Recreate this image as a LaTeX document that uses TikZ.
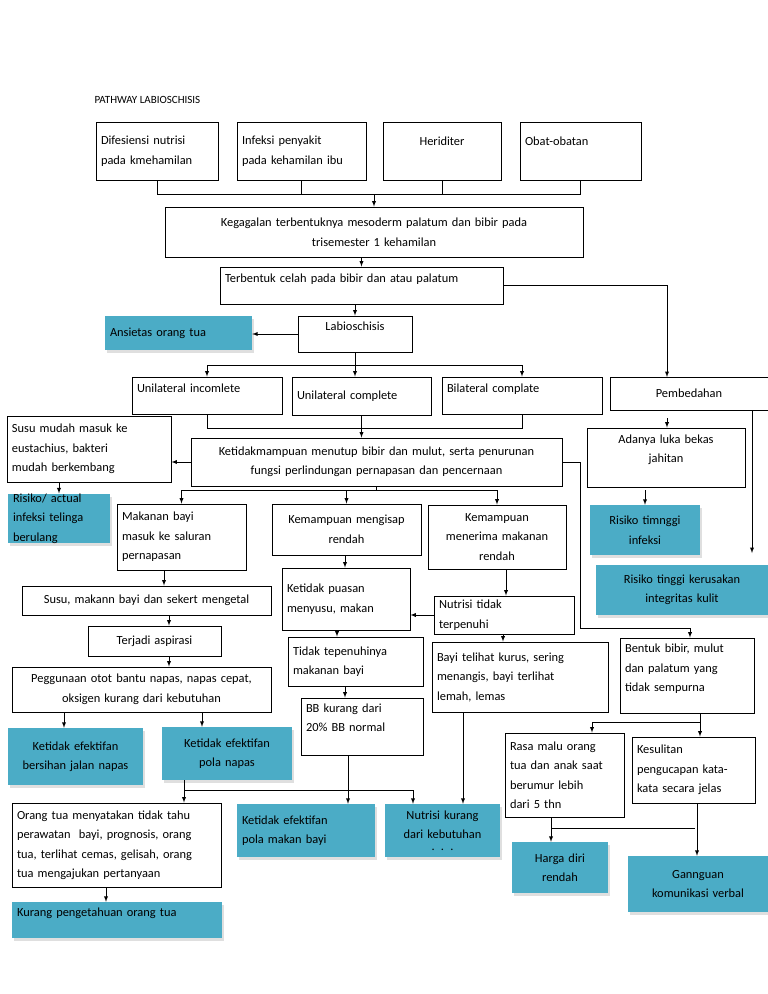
\documentclass[tikz,border=0pt]{standalone}
\usepackage{fontspec}
\setmainfont{Carlito}
\usetikzlibrary{shadows}
\definecolor{bl}{HTML}{4BACC6}
\lefthyphenmin=64
\newcommand\bx[7]{%
\pgfmathsetmacro\bxcx{(#2+#4)/2}\pgfmathsetmacro\bxcy{(#3+#5)/2}%
\pgfmathsetmacro\bxw{#4-#2}\pgfmathsetmacro\bxh{#5-#3}\pgfmathsetmacro\bxtw{#4-#2-10}%
\node[#6,minimum width=\bxw pt,minimum height=\bxh pt,text width=\bxtw pt] (#1) at (\bxcx,\bxcy) {#7};}
\begin{document}
\begin{tikzpicture}[x=1pt,y=-1pt,
 box/.style={draw,line width=0.9pt,fill=white,inner sep=0pt,font=\fontsize{12.4}{19.5}\selectfont},
 L/.style={box,align=left},
 C/.style={box,align=center},
 B/.style={fill=bl,inner sep=0pt,drop shadow={shadow xshift=2pt,shadow yshift=-3pt,fill=gray!25,opacity=1},font=\fontsize{12.4}{19.5}\selectfont},
 BL/.style={B,align=left},
 BC/.style={B,align=center},
 arr/.style={-latex,line width=0.9pt},
 ln/.style={line width=0.9pt}]
\useasboundingbox (0,0) rectangle (768,994);
\node[anchor=west,font=\fontsize{11}{13}\selectfont] (title) at (91,100) {PATHWAY LABIOSCHISIS};
\bx{d1}{96}{122}{218}{180}{L}{Difesiensi nutrisi\\pada kmehamilan}
\bx{d2}{237}{122}{366}{180}{L}{Infeksi penyakit\\pada kehamilan ibu}
\bx{d3}{383}{122}{501}{180}{C}{Heriditer\\\mbox{}}
\bx{d4}{520}{122}{641}{180}{L}{Obat-obatan\\\mbox{}}
\bx{k}{165}{207}{583}{257}{C}{Kegagalan terbentuknya mesoderm palatum dan bibir pada\\trisemester 1 kehamilan}
\bx{t}{220}{267}{503}{304}{L}{Terbentuk celah pada bibir dan atau palatum\\[-4pt]\mbox{}}
\bx{lab}{298}{316}{412}{352}{C}{Labioschisis\\[-4pt]\mbox{}}
\bx{ans}{105}{316}{252}{350}{BL}{Ansietas orang tua}
\bx{ui}{132}{377}{282}{414}{L}{Unilateral incomlete\\[-4pt]\mbox{}}
\bx{uc}{292}{377}{431}{415}{L}{Unilateral complete}
\bx{bc}{442}{377}{602}{414}{L}{Bilateral complate\\[-4pt]\mbox{}}
\bx{pem}{610}{377}{768}{410}{C}{Pembedahan}
\bx{se}{7}{416}{171}{482}{L}{Susu mudah masuk ke\\eustachius, bakteri\\mudah berkembang}
\bx{kt}{191}{438}{562}{486}{C}{Ketidakmampuan menutup bibir dan mulut, serta penurunan\\fungsi perlindungan pernapasan dan pencernaan}
\bx{ri}{8}{497}{110}{540}{BL}{Risiko/ actual\\infeksi telinga\\berulang}
\bx{al}{587}{428}{745}{487}{C}{Adanya luka bekas\\jahitan\\[-2pt]\mbox{}}
\bx{rt}{590}{505}{700}{555}{BC}{Risiko timnggi\\infeksi}
\bx{rk}{596}{565}{768}{615}{BC}{Risiko tinggi kerusakan\\integritas kulit}
\bx{mb}{117}{504}{246}{570}{L}{Makanan bayi\\masuk ke saluran\\pernapasan}
\bx{km}{272}{504}{421}{555}{C}{Kemampuan mengisap\\rendah}
\bx{kr}{428}{505}{566}{569}{C}{Kemampuan\\menerima makanan\\rendah}
\bx{sm}{22}{586}{271}{615}{C}{Susu, makann bayi dan sekert mengetal}
\bx{kp}{282}{568}{410}{630}{L}{Ketidak puasan\\menyusu, makan}
\bx{nt}{434}{596}{574}{634}{L}{Nutrisi tidak\\terpenuhi}
\bx{bt}{620}{638}{754}{713}{L}{Bentuk bibir, mulut\\dan palatum yang\\tidak sempurna\\[-4pt]\mbox{}}
\bx{ta}{88}{626}{221}{656}{C}{Terjadi aspirasi}
\bx{tt}{288}{637}{423}{686}{L}{Tidak tepenuhinya\\makanan bayi}
\bx{bk}{432}{642}{608}{712}{L}{Bayi telihat kurus, sering\\menangis, bayi terlihat\\lemah, lemas}
\bx{pg}{12}{667}{271}{712}{C}{Peggunaan otot bantu napas, napas cepat,\\oksigen kurang dari kebutuhan}
\bx{bb}{301}{698}{423}{755}{L}{BB kurang dari\\20\% BB normal\\[-2pt]\mbox{}}
\bx{bj}{8}{728}{143}{785}{BC}{Ketidak efektifan\\bersihan jalan napas}
\bx{pn}{162}{727}{292}{780}{BC}{Ketidak efektifan\\pola napas}
\bx{rm}{505}{733}{624}{817}{L}{Rasa malu orang\\tua dan anak saat\\berumur lebih\\dari 5 thn}
\bx{ks}{632}{737}{755}{803}{L}{Kesulitan\\pengucapan kata-\\kata secara jelas}
\bx{ot}{12}{803}{221}{887}{L}{Orang tua menyatakan tidak tahu\\perawatan\ \ bayi, prognosis, orang\\tua, terlihat cemas, gelisah, orang\\tua mengajukan pertanyaan}
\bx{pm}{237}{804}{375}{857}{BL}{Ketidak efektifan\\pola makan bayi}
\bx{nk}{385}{804}{500}{857}{BC}{Nutrisi kurang\\dari kebutuhan\\[-8pt]. . .}
\bx{hd}{512}{842}{608}{893}{BC}{Harga diri\\rendah}
\bx{gk}{628}{856}{768}{912}{BC}{Gannguan\\komunikasi verbal}
\bx{kpo}{12}{902}{222}{938}{BL}{Kurang pengetahuan orang tua\\[-4pt]\mbox{}}
% connectors
\foreach \n in {d1,d2,d3,d4}{\draw[ln] (\n.south) -- (\n.south |- 0,194);}
\draw[ln] (d1.south |- 0,194) -- (d4.south |- 0,194);
\draw[arr] (k.north |- 0,194) -- (k.north);
\draw[arr] (k.south) -- (k.south -| t.north) -- (t.north);
\draw[arr] (t.south -| lab.north) -- (lab.north);
\draw[arr] (t.east) -- (t.east -| 667,0) -- (667,377) coordinate (pemin);
\draw[arr] (lab.west) -- (lab.west -| ans.east);
\draw[ln] (lab.south) -- (lab.south |- 0,365) coordinate (j1);
\draw[ln] (j1 -| ui.north) -- (j1 -| bc.north);
\draw[arr] (j1 -| ui.north) -- (ui.north);
\draw[arr] (j1) -- (j1 |- uc.north);
\draw[arr] (j1 -| bc.north) -- (bc.north);
\draw[ln] (ui.south) -- (ui.south |- 0,428) -- (bc.south |- 0,428) -- (bc.south);
\draw[arr] (uc.south) -- (uc.south |- kt.north);
\draw[arr] (kt.west) -- (kt.west -| se.east);
\draw[arr] (ri.north |- se.south) -- (ri.north);
\coordinate (pa) at (667,418);
\draw[arr] (pa) -- (pa |- al.north);
\draw[arr] (al.south -| rt.north) ++(0,3) -- (rt.north);
\draw[arr] (752,410) -- (752,553);
\draw[ln] (kt.east) -- (kt.east -| 580,0) -- (580,628) -- (690,628);
\draw[arr] (690,628) -- (690,0 |- bt.north);
\draw[ln] (kt.south) -- (kt.south |- 0,490) coordinate (j2);
\draw[ln] (j2 -| mb.north) -- (j2 -| kr.north);
\draw[arr] (j2 -| mb.north) -- (mb.north);
\draw[arr] (j2 -| km.north) -- (km.north);
\draw[arr] (j2 -| kr.north) -- (kr.north);
\draw[arr] (164,570) -- (164,0 |- sm.north);
\draw[arr] (km.south -| 345,0) -- (345,0 |- kp.north);
\draw[arr] (kr.south -| 506,0) -- (506,0 |- nt.north);
\draw[arr] (nt.west) -- (nt.west -| kp.east);
\draw[arr] (sm.south -| 169,0) -- (169,0 |- ta.north);
\draw[arr] (ta.south -| 169,0) -- (169,0 |- pg.north);
\draw[arr] (pg.south -| 64,0) -- (64,0 |- bj.north);
\draw[arr] (pg.south -| 202,0) -- (202,0 |- pn.north);
\draw[arr] (kp.south -| 337,0) -- (337,0 |- tt.north);
\draw[arr] (tt.south -| 345,0) -- (345,0 |- bb.north);
\draw[arr] (nt.south -| 503,0) -- (503,0 |- bk.north);
\draw[ln] (pn.south -| 184,0) -- (184,790) -- (413,790);
\draw[arr] (184,790) -- (184,0 |- ot.north);
\draw[arr] (413,790) -- (413,0 |- nk.north);
\draw[arr] (bb.south -| 348,0) -- (348,0 |- pm.north);
\draw[arr] (bk.south -| 463,0) -- (463,0 |- nk.north);
\draw[ln] (bt.south -| 700,0) -- (700,722) -- (592,722);
\draw[arr] (592,722) -- (592,0 |- rm.north);
\draw[arr] (700,722) -- (700,0 |- ks.north);
\draw[ln] (rm.south -| 551,0) -- (551,828) -- (695,828);
\draw[arr] (551,828) -- (551,0 |- hd.north);
\draw[arr] (ks.south -| 697,0) -- (697,0 |- gk.north);
\draw[arr] (ot.south -| 106,0) -- (106,0 |- kpo.north);
\end{tikzpicture}
\end{document}
